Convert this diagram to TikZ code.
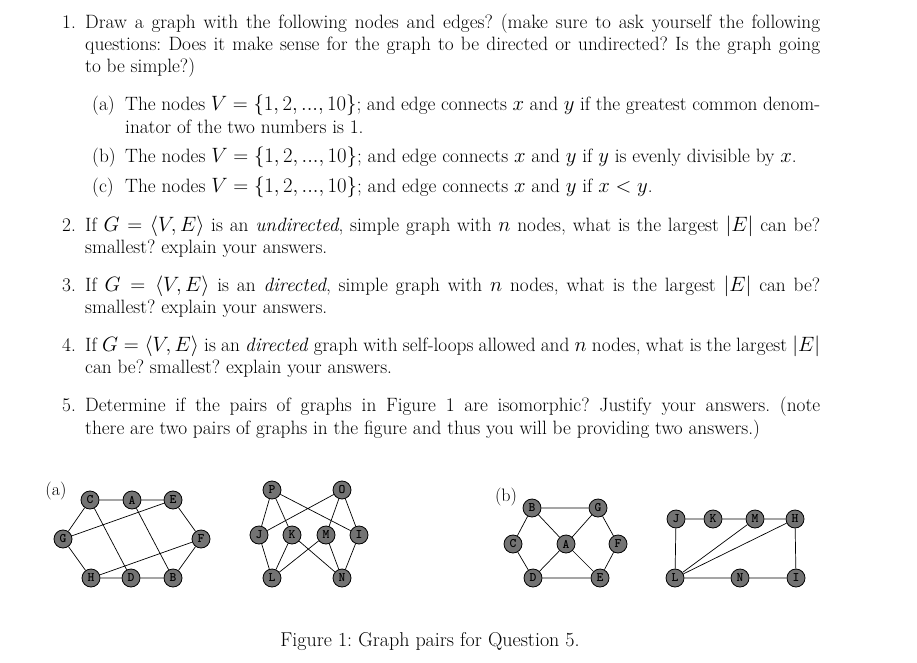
\documentclass[tikz,border=0pt]{standalone}
\usepackage{amsmath}
\begin{document}
\frenchspacing
\begin{tikzpicture}[x=1pt,y=-1pt,
  v/.style={circle,draw=black,fill=gray!90!black,line width=0.8pt,minimum size=18pt,inner sep=0pt,font=\fontsize{13}{13}\ttfamily\bfseries},
  e/.style={line width=0.7pt},
  tl/.style={anchor=base west,inner sep=0pt,font=\fontsize{19.3}{22}\selectfont}]
\useasboundingbox (0,0) rectangle (917,663);
% question 1
\node[tl] (n1) at (62,29) {1.};
\node[tl] (l1a) at (85,29) {\makebox[735pt][s]{Draw a graph with the following nodes and edges? (make sure to ask yourself the following}};
\node[tl] (l1b) at (85,51) {\makebox[735pt][s]{questions: Does it make sense for the graph to be directed or undirected? Is the graph going}};
\node[tl] (l1c) at (85,73) {to be simple?)};
\node[tl] (sa) at (92,111) {(a)};
\node[tl] (sa1) at (125,111) {\makebox[695pt][s]{The nodes $V=\{1,2,...,10\}$; and edge connects $x$ and $y$ if the greatest common denom-}};
\node[tl] (sa2) at (125,134) {inator of the two numbers is 1.};
\node[tl] (sb) at (92,163) {(b)};
\node[tl] (sb1) at (125,163) {The nodes $V=\{1,2,...,10\}$; and edge connects $x$ and $y$ if $y$ is evenly divisible by $x$.};
\node[tl] (sc) at (92,193) {(c)};
\node[tl] (sc1) at (125,193) {The nodes $V=\{1,2,...,10\}$; and edge connects $x$ and $y$ if $x<y$.};
\node[tl] (n2) at (62,231) {2.};
\node[tl] (l2a) at (85,231) {\makebox[735pt][s]{If $G=\langle V,E\rangle$ is an \textit{undirected}, simple graph with $n$ nodes, what is the largest $|E|$ can be?}};
\node[tl] (l2b) at (85,253) {smallest? explain your answers.};
\node[tl] (n3) at (62,291) {3.};
\node[tl] (l3a) at (85,291) {\makebox[735pt][s]{If $G=\langle V,E\rangle$ is an \textit{directed}, simple graph with $n$ nodes, what is the largest $|E|$ can be?}};
\node[tl] (l3b) at (85,313) {smallest? explain your answers.};
\node[tl] (n4) at (62,351) {4.};
\node[tl] (l4a) at (85,351) {\makebox[735pt][s]{If $G=\langle V,E\rangle$ is an \textit{directed} graph with self-loops allowed and $n$ nodes, what is the largest $|E|$}};
\node[tl] (l4b) at (85,373) {can be? smallest? explain your answers.};
\node[tl] (n5) at (62,411) {5.};
\node[tl] (l5a) at (85,411) {\makebox[735pt][s]{Determine if the pairs of graphs in Figure 1 are isomorphic? Justify your answers. (note}};
\node[tl] (l5b) at (85,434) {there are two pairs of graphs in the figure and thus you will be providing two answers.)};
\node[font=\fontsize{18}{18}\selectfont] (la) at (56,491) {(a)};
\node[font=\fontsize{18}{18}\selectfont] (lb) at (506,497) {(b)};
\node[font=\fontsize{20}{20}\selectfont] (cap) at (430,642) {Figure 1: Graph pairs for Question 5.};
% graph a1
\node[v] (aC) at (90,500) {C}; \node[v] (aA) at (132,500) {A}; \node[v] (aE) at (173,500) {E};
\node[v] (aG) at (63,539) {G}; \node[v] (aF) at (201,539) {F};
\node[v] (aH) at (91,578) {H}; \node[v] (aD) at (131,578) {D}; \node[v] (aB) at (173,578) {B};
% graph a2
\node[v] (bP) at (272,490) {P}; \node[v] (bO) at (342,490) {O};
\node[v] (bJ) at (259,535) {J}; \node[v] (bK) at (292,535) {K}; \node[v] (bM) at (326,535) {M}; \node[v] (bI) at (359,535) {I};
\node[v] (bL) at (272,578) {L}; \node[v] (bN) at (342,578) {N};
% graph b1
\node[v] (cB) at (532,508) {B}; \node[v] (cG) at (598,508) {G};
\node[v] (cC) at (513,544) {C}; \node[v] (cA) at (566,544) {A}; \node[v] (cF) at (618,544) {F};
\node[v] (cD) at (533,578) {D}; \node[v] (cE) at (600,578) {E};
% graph b2
\node[v] (dJ) at (676,519) {J}; \node[v] (dK) at (713,519) {K}; \node[v] (dM) at (755,519) {M}; \node[v] (dH) at (795,519) {H};
\node[v] (dL) at (675,578) {L}; \node[v] (dN) at (740,578) {N}; \node[v] (dI) at (796,578) {I};
% edges
\draw[e] (aC)--(aA) (aA)--(aE) (aC)--(aG) (aG)--(aE) (aE)--(aF) (aG)--(aH) (aH)--(aF) (aF)--(aB) (aH)--(aD) (aD)--(aB) (aC)--(aD) (aA)--(aB);
\draw[e] (bP)--(bJ) (bP)--(bK) (bP)--(bI) (bO)--(bJ) (bO)--(bM) (bO)--(bI) (bJ)--(bL) (bK)--(bL) (bK)--(bN) (bM)--(bL) (bM)--(bN) (bI)--(bN);
\draw[e] (cB)--(cG) (cB)--(cC) (cB)--(cA) (cG)--(cA) (cG)--(cF) (cC)--(cD) (cD)--(cA) (cA)--(cE) (cF)--(cE) (cD)--(cE);
\draw[e] (dJ)--(dK) (dK)--(dM) (dM)--(dH) (dJ)--(dL) (dL)--(dM) (dL)--(dH) (dL)--(dN) (dN)--(dI) (dH)--(dI);
\end{tikzpicture}
\end{document}
